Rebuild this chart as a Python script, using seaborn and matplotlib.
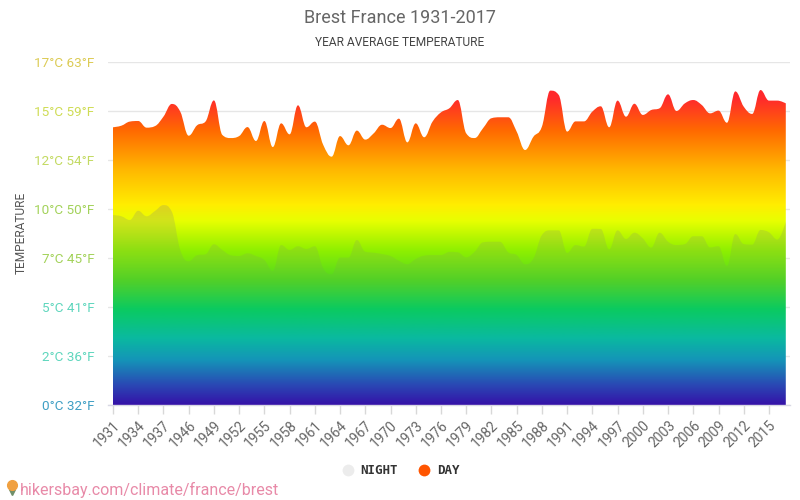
import matplotlib
matplotlib.use('Agg')
import matplotlib.pyplot as plt
import numpy as np
import pandas as pd
import seaborn as sns
from matplotlib.colors import LinearSegmentedColormap
from matplotlib.lines import Line2D
from matplotlib.patches import PathPatch
from matplotlib.path import Path

# the x axis is a category axis, the war years are missing from the source
years = list(range(1931, 1939)) + list(range(1945, 2018))

day = [14.17, 14.25, 14.46, 14.49, 14.15, 14.23, 14.71, 15.36, 14.97, 13.74,
       14.27, 14.46, 15.54, 13.78, 13.62, 13.72, 14.18, 13.47, 14.49, 13.16,
       14.37, 13.81, 15.29, 14.17, 14.46, 13.27, 12.67, 13.72, 13.25, 14.00,
       13.54, 13.86, 14.30, 14.13, 14.61, 13.40, 14.37, 13.66, 14.46, 14.93,
       15.14, 15.56, 13.86, 13.62, 14.12, 14.63, 14.68, 14.68, 13.95, 13.01,
       13.69, 14.20, 16.04, 15.82, 13.95, 14.47, 14.47, 14.97, 15.24, 14.17,
       15.53, 14.71, 15.37, 14.80, 15.05, 15.14, 15.85, 15.00, 15.39, 15.56,
       15.31, 14.88, 15.02, 14.40, 16.00, 15.22, 14.85, 16.07, 15.53, 15.53,
       15.39]

night = [9.69, 9.63, 9.44, 9.91, 9.63, 9.90, 10.20, 9.86, 7.91, 7.33,
         7.64, 7.69, 8.20, 7.91, 7.64, 7.60, 7.74, 7.60, 7.40, 6.84,
         8.16, 7.91, 8.10, 7.96, 8.10, 6.97, 6.67, 7.52, 7.52, 8.42,
         7.82, 7.77, 7.70, 7.60, 7.36, 7.18, 7.45, 7.62, 7.65, 7.65,
         7.81, 7.79, 7.53, 7.82, 8.30, 8.33, 8.33, 7.79, 7.65, 7.18,
         7.48, 8.67, 8.91, 8.91, 7.76, 8.16, 8.08, 8.99, 8.98, 7.94,
         8.91, 8.47, 8.79, 8.50, 8.03, 8.79, 8.33, 8.16, 8.21, 8.61,
         8.61, 8.04, 8.10, 7.09, 8.72, 8.21, 8.18, 8.93, 8.81, 8.44,
         9.35]

y_ticks = [0, 2.5, 5, 7.5, 10, 12.5, 15, 17.5]
y_labels = ['0°C 32°F', '2°C 36°F', '5°C 41°F', '7°C 45°F',
            '10°C 50°F', '12°C 54°F', '15°C 59°F', '17°C 63°F']
y_label_colors = ['#3f9fc4', '#5fd6bd', '#5fd6bd', '#a3d25a',
                  '#a3d25a', '#c3da62', '#cfdc55', '#dccb55']

# colour stops of the temperature gradient (value, colour)
gradient_stops = [(0.0, '#3511a8'), (1.0, '#2a48b4'), (2.3, '#1495b8'), (3.4, '#0ab9a0'),
                  (4.9, '#0acc60'), (6.4, '#50d820'), (7.9, '#90f000'), (9.4, '#e8ff00'),
                  (10.2, '#ffee00'), (12.0, '#ffb800'), (14.0, '#ff6a00'), (15.6, '#ff2b2b'),
                  (17.5, '#ff2030')]


def spline_path(x, y, base=0.0):
    # closed area with the control points a highcharts areaspline uses
    verts = [(x[0], base), (x[0], y[0])]
    codes = [Path.MOVETO, Path.LINETO]
    last_right = (x[0], y[0])
    for i in range(1, len(x)):
        cx, cy = x[i], y[i]
        px, py = x[i - 1], y[i - 1]
        if i < len(x) - 1:
            nx, ny = x[i + 1], y[i + 1]
            lx, ly = (1.5 * cx + px) / 2.5, (1.5 * cy + py) / 2.5
            rx, ry = (1.5 * cx + nx) / 2.5, (1.5 * cy + ny) / 2.5
            corr = (ry - ly) * (rx - cx) / (rx - lx) + cy - ry
            ly += corr
            ry += corr
            if ly > py and ly > cy:
                ly = max(py, cy)
                ry = 2 * cy - ly
            elif ly < py and ly < cy:
                ly = min(py, cy)
                ry = 2 * cy - ly
            if ry > ny and ry > cy:
                ry = max(ny, cy)
                ly = 2 * cy - ry
            elif ry < ny and ry < cy:
                ry = min(ny, cy)
                ly = 2 * cy - ry
        else:
            lx, ly, rx, ry = cx, cy, cx, cy
        verts += [last_right, (lx, ly), (cx, cy)]
        codes += [Path.CURVE4] * 3
        last_right = (rx, ry)
    verts += [(x[-1], base), (x[0], base)]
    codes += [Path.LINETO, Path.CLOSEPOLY]
    return Path(verts, codes)


sns.set_theme(style='white')
plt.rcParams['font.family'] = ['Roboto', 'DejaVu Sans']

df = pd.DataFrame({'pos': np.arange(len(years)), 'year': years, 'day': day, 'night': night})

fig = plt.figure(figsize=(8, 5), dpi=100)
ax = fig.add_axes([108 / 800, 95 / 500, 682 / 800, 343 / 500])

sns.lineplot(data=df, x='pos', y='day', ax=ax, linewidth=0)
sns.lineplot(data=df, x='pos', y='night', ax=ax, linewidth=0)

xlim = (-0.59, 80.5)
ylim = (0, 17.5)
extent = (0, len(years) - 1, 0, 17.5)

cmap = LinearSegmentedColormap.from_list('temp', [(v / 17.5, c) for v, c in gradient_stops], N=512)
ramp = np.linspace(1, 0, 512).reshape(-1, 1)
day_img = ax.imshow(ramp, cmap=cmap, vmin=0, vmax=1, extent=extent, aspect='auto', zorder=2)
day_patch = PathPatch(spline_path(df['pos'].values, df['day'].values), transform=ax.transData, fc='none', ec='none')
ax.add_patch(day_patch)
day_img.set_clip_path(day_patch)

# night sits on top as a grey veil that fades out towards the bottom
veil = np.zeros((512, 1, 4))
veil[..., :3] = 0.5
veil[:, 0, 3] = np.clip((np.linspace(17.5, 0, 512) - 4.5) / 5.5, 0, 1) * 0.24
night_img = ax.imshow(veil, extent=extent, aspect='auto', zorder=3)
night_patch = PathPatch(spline_path(df['pos'].values, df['night'].values), transform=ax.transData, fc='none', ec='none')
ax.add_patch(night_patch)
night_img.set_clip_path(night_patch)

ax.set_xlim(xlim)
ax.set_ylim(ylim)

ax.set_yticks(y_ticks)
ax.set_yticklabels(y_labels, fontsize=9.7)
for lab, col in zip(ax.get_yticklabels(), y_label_colors):
    lab.set_color(col)
ax.tick_params(axis='y', length=0, pad=9.7)
ax.grid(axis='y', color='#e6e6e6', linewidth=1)
ax.set_axisbelow(True)

ax.set_xticks(df['pos'].values[::3])
ax.set_xticklabels(df['year'].values[::3], rotation=45, ha='right', va='top',
                   rotation_mode='anchor', fontsize=10, color='#666666')
ax.tick_params(axis='x', length=6.5, width=1, color='#d8d8d8', pad=3, bottom=True)

for side in ['top', 'right', 'left']:
    ax.spines[side].set_visible(False)
ax.spines['bottom'].set_color('#d8d8e4')
ax.spines['bottom'].set_linewidth(1)
ax.set_xlabel('')
ax.set_ylabel('')

fig.text(0.5, 1 - 18 / 500, 'Brest France 1931-2017', ha='center', va='center', fontsize=13, color='#666666')
fig.text(0.5, 1 - 42 / 500, 'YEAR AVERAGE TEMPERATURE', ha='center', va='center', fontsize=8.6, color='#444444')
fig.text(21 / 800, 1 - 233 / 500, 'TEMPERATURE', rotation=90, ha='center', va='center', fontsize=8.6, color='#555555')

handles = [Line2D([], [], linestyle='none', marker='o', markersize=8.5, markerfacecolor='#ececec', markeredgecolor='none'),
           Line2D([], [], linestyle='none', marker='o', markersize=8.5, markerfacecolor='#ff5500', markeredgecolor='none')]
fig.legend(handles, ['NIGHT', 'DAY'], ncols=2, loc='center', bbox_to_anchor=(397.5 / 800, 1 - 471 / 500),
           frameon=False, columnspacing=1.1, handletextpad=0.0,
           prop={'family': 'DejaVu Sans Mono', 'weight': 'bold', 'size': 9}, labelcolor='#333333')

# watermark with its little map pin
fig.add_artist(Line2D([12 / 800], [1 - 492 / 500], marker='v', markersize=5, color='#6f8f6a', linestyle='none', transform=fig.transFigure))
fig.add_artist(Line2D([12 / 800], [1 - 485 / 500], marker='o', markersize=7, color='#f0a040', linestyle='none', transform=fig.transFigure))
fig.text(20 / 800, 1 - 489.5 / 500, 'hikersbay.com/climate/france/brest', ha='left', va='center', fontsize=11.55, color='#e88aa8')

fig.savefig('out.png', dpi=100)
